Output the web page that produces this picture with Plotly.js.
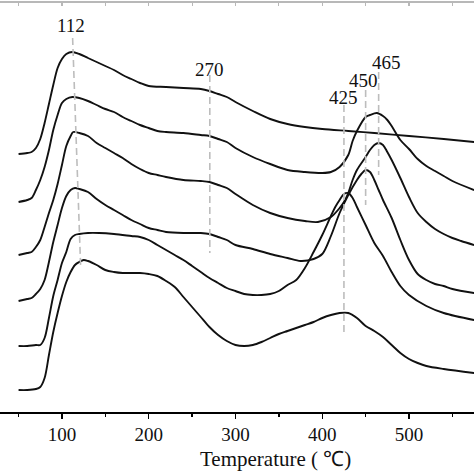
<!DOCTYPE html>
<html><head><meta charset="utf-8">
<script src="https://cdn.plot.ly/plotly-3.0.1.min.js"></script>
<style>html,body{margin:0;padding:0;background:#fff}#chart{width:474px;height:474px}</style>
</head><body><div id="chart"></div>
<script>
// Temperature (°C) and stacked signal (a.u.) for the six profiles, top to bottom
const c1T = [50,60,65,70,75,80,85,90,95,100,105,112,120,130,140,150,160,170,180,190,200,220,240,260,270,280,290,300,320,340,360,380,400,430,460,500,540,575];
const c1I = [259,260,261,265,274,290,309,328,345,354,359,361,359,355,351,347,343,338,334,330,327,326,325,324,322,319,316,311,302,294,289,286,284,282,280,277,274,271];

const c2T = [50,60,65,70,75,80,85,90,95,100,105,112,120,130,140,150,160,170,180,190,200,210,220,240,260,270,280,290,300,320,340,360,380,400,410,420,430,435,440,450,455,463,470,475,480,490,500,510,520,530,540,550,575];
const c2I = [211,213,215,223,233,246,263,283,298,310,314,316,315,312,308,304,301,296,292,288,285,282,281,280,278,277,274,271,265,256,249,243,241,240,241,246,258,272,282,296,298,300,297,293,287,273,264,254,247,242,237,232,223];

const c3T = [50,60,65,70,75,80,85,90,95,100,105,110,113,120,130,140,150,160,170,180,190,200,210,220,240,260,270,280,290,300,320,340,360,380,395,410,420,425,430,435,440,450,455,460,465,470,475,480,490,500,510,520,530,540,550,560,575];
const c3I = [158,160,161,166,173,186,200,213,229,248,267,277,281,280,277,270,265,260,255,249,244,240,238,236,233,232,231,228,225,219,208,200,195,192,191,196,205,211,220,233,243,256,263,268,270,268,261,253,235,216,200,191,184,179,175,172,168];

const c4T = [50,60,65,70,75,80,85,90,95,100,105,110,115,120,130,140,150,160,170,180,190,200,210,220,240,260,270,280,290,300,320,340,360,375,390,400,410,420,430,440,445,450,455,460,465,470,480,490,500,510,520,530,540,550,575];
const c4I = [112,114,115,119,124,133,151,171,188,205,217,223,225,224,221,214,208,203,198,193,189,185,183,181,180,180,179,176,173,168,164,159,155,152,154,159,177,200,218,233,239,243,241,233,223,213,195,173,153,139,133,129,127,124,120];

const c5T = [50,60,70,75,80,85,90,95,100,105,110,115,120,130,143,160,180,190,200,210,220,230,240,250,260,270,280,290,300,310,320,330,340,350,360,370,380,390,400,410,415,420,425,430,435,440,450,460,470,480,490,500,520,540,575];
const c5I = [67,67,68,68,75,95,117,133,150,161,174,178,179,180,180,179,177,176,173,168,163,158,153,147,141,135,130,125,122,119,118,118,119,122,128,133,145,161,178,197,206,213,219,220,215,206,188,170,157,141,127,118,107,100,93];

const c6T = [50,60,70,75,80,85,90,95,100,105,110,115,120,125,130,140,150,160,170,180,190,200,210,220,230,240,250,260,270,280,290,300,310,320,330,340,350,360,370,380,390,400,410,420,430,440,450,460,470,480,490,500,510,520,540,575];
const c6I = [23,23,24,26,35,58,81,100,117,131,141,148,151,153,152,148,143,141,140,140,140,139,137,132,126,116,106,96,86,78,72,68,67,68,71,75,79,82,85,88,91,95,98,100,100,95,87,82,76,68,60,54,50,47,44,40];

// peak guide lines and their labels
const peakLabels = ['112','270','425','450','465'];
const labelT = [111, 270, 424, 447, 474];
const labelI = [388, 344, 316, 333, 351];
const guideTopT = [112.3, 270.4, 425, 450, 465];
const guideBotT = [121.6, 270.4, 425, 450, 465];
const guideTopI = [375, 338, 308, 323, 341];
const guideBotI = [145, 160, 78, 208, 238];

const xTitle = 'Temperature ( \u2103)';

const traces = [];
for (let k = 0; k < peakLabels.length; k++) {
  traces.push({
    x: [guideTopT[k], guideBotT[k]], y: [guideTopI[k], guideBotI[k]],
    xaxis: 'x2', type: 'scatter', mode: 'lines',
    line: {color: '#bdbdbd', width: 1.6, dash: '7px,4px'},
    hoverinfo: 'skip', showlegend: false
  });
}
const curves = [[c1T,c1I],[c2T,c2I],[c3T,c3I],[c4T,c4I],[c5T,c5I],[c6T,c6I]];
curves.forEach(c => traces.push({
  x: c[0], y: c[1], type: 'scatter', mode: 'lines',
  line: {color: '#111', width: 1.9, shape: 'spline', smoothing: 0.9},
  showlegend: false, hoverinfo: 'skip'
}));

const font = 'Liberation Serif, Times New Roman, serif';
const annotations = peakLabels.map((s, k) => ({
  x: labelT[k], y: labelI[k], xref: 'x', yref: 'y', text: s, showarrow: false,
  font: {family: font, size: 19, color: '#111'}
}));
// axis title (the original figure is cropped, so its title sits right of the visible centre)
annotations.push({
  x: 0.582, y: -0.115, xref: 'paper', yref: 'paper', xanchor: 'center', yanchor: 'middle',
  text: xTitle, showarrow: false, font: {family: font, size: 21, color: '#111'}
});

const xr = [28.6, 574.9];
const layout = {
  width: 474, height: 474,
  margin: {l: 0, r: 0, t: 3, b: 62, pad: 0},
  paper_bgcolor: '#fff', plot_bgcolor: '#fff',
  showlegend: false,
  xaxis: {
    range: xr, showgrid: false, zeroline: false,
    showline: true, linecolor: '#000', linewidth: 1.6,
    ticks: 'outside', ticklen: 5, tickwidth: 1.4, tickcolor: '#000',
    tick0: 0, dtick: 100,
    minor: {ticks: 'outside', ticklen: 3, tickwidth: 1.4, tickcolor: '#000', dtick: 50, tick0: 0, showgrid: false},
    tickfont: {family: font, size: 19, color: '#111'},
    automargin: false
  },
  xaxis2: {
    range: xr, overlaying: 'x', side: 'top', anchor: 'y',
    showgrid: false, zeroline: false, showticklabels: false,
    showline: true, linecolor: '#b8b8b8', linewidth: 2.5,
    ticks: 'inside', ticklen: 3, tickwidth: 1.2, tickcolor: '#b8b8b8',
    tick0: 0, dtick: 50
  },
  yaxis: {range: [1, 410], visible: false, showgrid: false, zeroline: false},
  annotations: annotations
};
Plotly.newPlot('chart', traces, layout, {staticPlot: true, displayModeBar: false});
</script>
</body></html>
